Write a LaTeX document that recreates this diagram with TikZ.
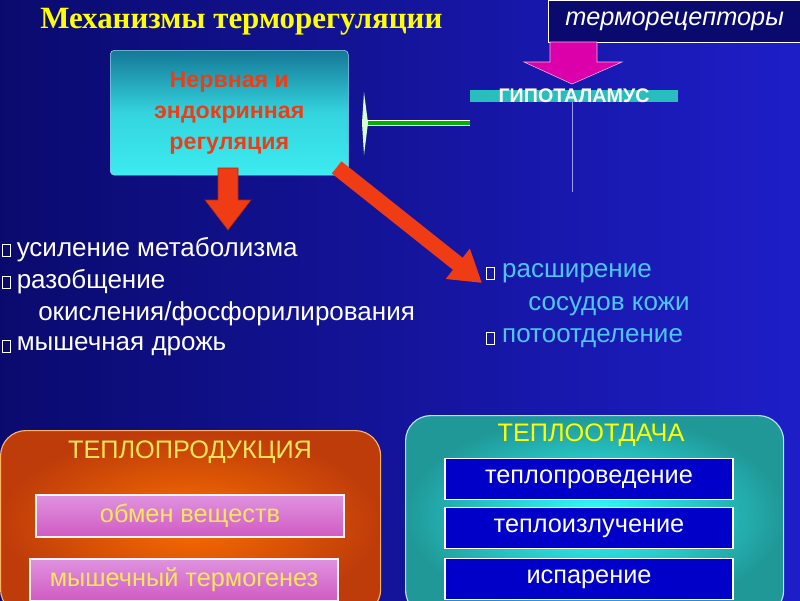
\documentclass[tikz,border=0pt]{standalone}
\usepackage{fontspec}
\setmainfont{Liberation Sans}
\newfontfamily\titlefont{Liberation Serif}
\usetikzlibrary{calc}
\usetikzlibrary{positioning}
\usetikzlibrary{arrows.meta}
\definecolor{bgdark}{RGB}{10,10,110}
\definecolor{bglight}{RGB}{30,30,200}
\definecolor{titleyellow}{RGB}{255,255,0}
\definecolor{hyteal}{RGB}{40,190,190}
\definecolor{boxcyan}{RGB}{60,235,240}
\definecolor{boxteal}{RGB}{20,120,150}
\definecolor{arrowred}{RGB}{240,60,20}
\definecolor{magentaar}{RGB}{220,0,170}
\definecolor{pinkbox}{RGB}{210,100,210}
\definecolor{textyellow}{RGB}{250,230,90}
\definecolor{bluebox}{RGB}{0,0,200}
\definecolor{orangec}{RGB}{250,110,0}
\definecolor{oranged}{RGB}{190,60,10}
\tikzset{
  body/.style={font=\fontsize{18.5}{20}\selectfont, text=white, anchor=west, inner sep=0pt},
  bulletbox/.style={draw=white, line width=0.6pt, minimum width=0.2cm, minimum height=0.3cm, inner sep=0pt, anchor=west},
  pinkitem/.style={rectangle, draw=white!80!pink, thick, top color=pinkbox!70!white, bottom color=pinkbox!90!purple, minimum width=7.7cm, minimum height=1.05cm, text=textyellow, font=\fontsize{18}{20}\selectfont},
  blueitem/.style={rectangle, draw=white, thick, fill=bluebox, minimum width=7.2cm, minimum height=1.02cm, text=white, font=\fontsize{18}{20}\selectfont},
}
\begin{document}
\begin{tikzpicture}[x=0.025cm, y=-0.025cm]
\useasboundingbox (0,0) rectangle (800,600);
\shade[left color=bgdark, right color=bglight] (0,0) rectangle (800,600);

\node [font=\titlefont\bfseries\fontsize{22}{24}\selectfont, text=titleyellow, anchor=west, inner sep=0pt] (title) at (40,22) {Механизмы терморегуляции};

% receptors and hypothalamus
\node at (548,0) [rectangle, draw=white, thick, fill=bgdark, minimum width=6.3cm, minimum height=1.05cm, anchor=north west, font=\itshape\fontsize{18}{20}\selectfont, text=white] (recep) {терморецепторы};
\fill [magentaar, draw=white!70!magentaar] (550,42) -- (597,42) -- (597,62) -- (622,62) -- (572,84) -- (524,62) -- (550,62) -- cycle;
\node at (574,96) [rectangle, fill=hyteal, minimum width=5.2cm, minimum height=0.3cm, inner sep=0pt] (hypo) {};
\node at (hypo) [font=\bfseries\fontsize{14}{14}\selectfont, text=white] (hypotext) {ГИПОТАЛАМУС};
\coordinate (hypoend) at (572,192);
\draw [white!60!blue, thin] (hypo.south -| hypoend) -- (hypoend);

% neuro-endocrine box
\node at (110,50) [rectangle, rounded corners=3pt, draw=white!60!cyan, top color=boxteal, bottom color=boxcyan, middle color=boxcyan!80!boxteal, minimum width=5.95cm, minimum height=3.12cm, anchor=north west, align=center, text=arrowred, font=\bfseries\fontsize{16.5}{22}\selectfont] (neuro) {Нервная и\\эндокринная\\регуляция};
\coordinate (greentip) at (366,123);
\draw [white, line width=4pt] (hypo.west |- greentip) -- (greentip);
\draw [green!70!black, line width=2.4pt] (hypo.west |- greentip) -- (greentip);
\fill [white!85!green] (364,92) -- (368,123) -- (364,155) -- (362,123) -- cycle;

% red arrows
\fill [arrowred, draw=arrowred!70!black] (218,168) -- (238,168) -- (238,200) -- (251,200) -- (228,230) -- (205,200) -- (218,200) -- cycle;
\coordinate (diagend) at (482,283);
\draw [arrowred, line width=11pt, -{Triangle[width=26pt, length=22pt]}] (neuro.south east) ++(-12,-8) -- (diagend);

% left bullets
\node [bulletbox] (b1) at (2,250) {};
\node [body, right=4pt of b1] (t1) {усиление метаболизма};
\node [bulletbox] (b2) at (2,282) {};
\node [body, right=4pt of b2] (t2) {разобщение};
\node [body] (t3) at (38,314) {окисления/фосфорилирования};
\node [bulletbox] (b4) at (2,346) {};
\node [body, right=4pt of b4] (t4) {мышечная дрожь};

% right bullets
\node [bulletbox] (r1) at (486,273) {};
\node [body, right=5pt of r1, text=cyan!70!white] (s1) {расширение};
\node [body, text=cyan!70!white] (s2) at (528,306) {сосудов кожи};
\node [bulletbox] (r3) at (486,338) {};
\node [body, right=5pt of r3, text=cyan!70!white] (s3) {потоотделение};

% heat production
\node at (0,430) [rectangle, rounded corners=18pt, draw=orange!60!white, thick, inner color=orangec, outer color=oranged, minimum width=9.5cm, minimum height=4.6cm, anchor=north west] (prod) {};
\node [text=textyellow, font=\fontsize{18}{20}\selectfont] (prodt) at (190,452) {ТЕПЛОПРОДУКЦИЯ};
\node [pinkitem] (met) at (190,516) {обмен веществ};
\node [pinkitem] (therm) at (184,580) {мышечный термогенез};

% heat loss
\node at (405,415) [rectangle, rounded corners=18pt, draw=white!70!cyan, thick, inner color=cyan!80!white, outer color=hyteal!80!black, minimum width=9.45cm, minimum height=5cm, anchor=north west] (loss) {};
\node [text=titleyellow, font=\fontsize{18}{20}\selectfont] (losst) at (591,435) {ТЕПЛООТДАЧА};
\node [blueitem] (cond) at (589,479) {теплопроведение};
\node [blueitem] (rad) at (589,528) {теплоизлучение};
\node [blueitem] (evap) at (589,579) {испарение};

\end{tikzpicture}
\end{document}
